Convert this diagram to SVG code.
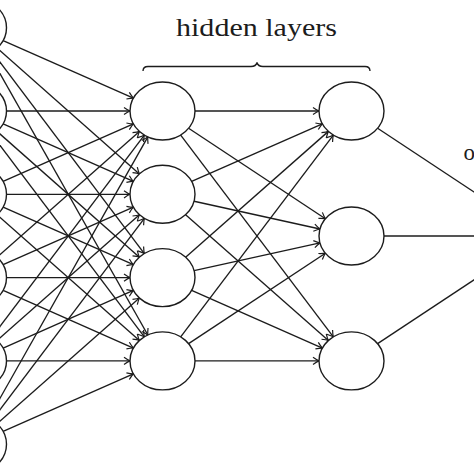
<svg xmlns="http://www.w3.org/2000/svg" width="474" height="474" viewBox="0 0 474 474">
<defs>
<style>
.node{fill:#fff;stroke:#1c1c1c;stroke-width:1.4}
.edge{fill:none;stroke:#1c1c1c;stroke-width:1.35}
.arr{marker-end:url(#tip)}
.lbl{font-family:"Liberation Serif","Times New Roman",serif;fill:#1c1c1c}
</style>
<marker id="tip" markerUnits="userSpaceOnUse" markerWidth="12" markerHeight="12" viewBox="-7 -6 8 12" refX="0" refY="0" orient="auto">
<path d="M-6,-3.6 Q-2,-0.8 0,0 Q-2,0.8 -6,3.6" fill="none" stroke="#1c1c1c" stroke-width="1.2"/>
</marker>
</defs>
<rect width="474" height="474" fill="#fff"/>
<g id="connectors">
<line class="edge arr" x1="3.13" y1="40.57" x2="133.38" y2="98.13"/>
<line class="edge arr" x1="-2.91" y1="48.11" x2="139.41" y2="173.89"/>
<line class="edge arr" x1="-7.85" y1="51.76" x2="144.35" y2="253.54"/>
<line class="edge arr" x1="-11.35" y1="53.59" x2="147.85" y2="335.01"/>
<line class="edge arr" x1="6.5" y1="111" x2="130" y2="111"/>
<line class="edge arr" x1="3.13" y1="123.87" x2="133.38" y2="181.43"/>
<line class="edge arr" x1="-2.91" y1="131.41" x2="139.41" y2="257.19"/>
<line class="edge arr" x1="-7.85" y1="135.06" x2="144.35" y2="336.84"/>
<line class="edge arr" x1="3.13" y1="181.43" x2="133.38" y2="123.87"/>
<line class="edge arr" x1="6.5" y1="194.3" x2="130" y2="194.3"/>
<line class="edge arr" x1="3.13" y1="207.17" x2="133.38" y2="264.73"/>
<line class="edge arr" x1="-2.91" y1="214.71" x2="139.41" y2="340.49"/>
<line class="edge arr" x1="-2.91" y1="257.19" x2="139.41" y2="131.41"/>
<line class="edge arr" x1="3.13" y1="264.73" x2="133.38" y2="207.17"/>
<line class="edge arr" x1="6.5" y1="277.6" x2="130" y2="277.6"/>
<line class="edge arr" x1="3.13" y1="290.47" x2="133.38" y2="348.03"/>
<line class="edge arr" x1="-7.85" y1="336.84" x2="144.35" y2="135.06"/>
<line class="edge arr" x1="-2.91" y1="340.49" x2="139.41" y2="214.71"/>
<line class="edge arr" x1="3.13" y1="348.03" x2="133.38" y2="290.47"/>
<line class="edge arr" x1="6.5" y1="360.9" x2="130" y2="360.9"/>
<line class="edge arr" x1="-11.35" y1="418.31" x2="147.85" y2="136.89"/>
<line class="edge arr" x1="-7.85" y1="420.14" x2="144.35" y2="218.36"/>
<line class="edge arr" x1="-2.91" y1="423.79" x2="139.41" y2="298.01"/>
<line class="edge arr" x1="3.13" y1="431.33" x2="133.38" y2="373.77"/>
<line class="edge arr" x1="195" y1="111" x2="319" y2="111"/>
<line class="edge arr" x1="191.64" y1="181.46" x2="322.36" y2="123.84"/>
<line class="edge arr" x1="185.62" y1="257.22" x2="328.38" y2="131.38"/>
<line class="edge arr" x1="180.68" y1="336.86" x2="333.32" y2="135.04"/>
<line class="edge arr" x1="188.61" y1="128.26" x2="325.39" y2="218.69"/>
<line class="edge arr" x1="194.05" y1="201.25" x2="319.95" y2="229"/>
<line class="edge arr" x1="194.05" y1="270.65" x2="319.95" y2="242.9"/>
<line class="edge arr" x1="188.61" y1="343.64" x2="325.39" y2="253.21"/>
<line class="edge arr" x1="180.68" y1="135.04" x2="333.32" y2="336.86"/>
<line class="edge arr" x1="185.62" y1="214.68" x2="328.38" y2="340.52"/>
<line class="edge arr" x1="191.64" y1="290.44" x2="322.36" y2="348.06"/>
<line class="edge arr" x1="195" y1="360.9" x2="319" y2="360.9"/>
<line class="edge" x1="377.61" y1="128.26" x2="514.39" y2="218.69"/>
<line class="edge" x1="384" y1="235.95" x2="508" y2="235.95"/>
<line class="edge" x1="377.61" y1="343.64" x2="514.39" y2="253.21"/>
</g>
<g id="input-1"><ellipse class="node" cx="-26" cy="27.7" rx="32.5" ry="29"/></g>
<g id="input-2"><ellipse class="node" cx="-26" cy="111" rx="32.5" ry="29"/></g>
<g id="input-3"><ellipse class="node" cx="-26" cy="194.3" rx="32.5" ry="29"/></g>
<g id="input-4"><ellipse class="node" cx="-26" cy="277.6" rx="32.5" ry="29"/></g>
<g id="input-5"><ellipse class="node" cx="-26" cy="360.9" rx="32.5" ry="29"/></g>
<g id="input-6"><ellipse class="node" cx="-26" cy="444.2" rx="32.5" ry="29"/></g>
<g id="hidden1-1"><ellipse class="node" cx="162.5" cy="111" rx="32.5" ry="29"/></g>
<g id="hidden1-2"><ellipse class="node" cx="162.5" cy="194.3" rx="32.5" ry="29"/></g>
<g id="hidden1-3"><ellipse class="node" cx="162.5" cy="277.6" rx="32.5" ry="29"/></g>
<g id="hidden1-4"><ellipse class="node" cx="162.5" cy="360.9" rx="32.5" ry="29"/></g>
<g id="hidden2-1"><ellipse class="node" cx="351.5" cy="111" rx="32.5" ry="29"/></g>
<g id="hidden2-2"><ellipse class="node" cx="351.5" cy="235.95" rx="32.5" ry="29"/></g>
<g id="hidden2-3"><ellipse class="node" cx="351.5" cy="360.9" rx="32.5" ry="29"/></g>
<g id="hidden-label">
<text class="lbl" x="176" y="35.5" font-size="25" textLength="161" lengthAdjust="spacingAndGlyphs">hidden layers</text>
<path class="edge" d="M143,71 Q143,66.5 148,66.5 L251,66.5 Q256,66.5 257,62.5 Q258,66.5 263,66.5 L365,66.5 Q370,66.5 370,71"/>
</g>
<g id="output-label">
<text class="lbl" x="463.5" y="159.5" font-size="23">o</text>
</g>
</svg>
